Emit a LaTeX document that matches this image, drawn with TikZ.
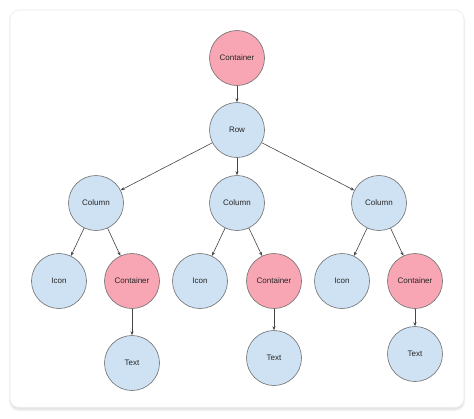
\documentclass[tikz,border=0pt]{standalone}
\usepackage{fontspec}
\setmainfont{Liberation Sans}
\usetikzlibrary{arrows.meta}
\definecolor{nodeblue}{RGB}{207,226,243}
\definecolor{nodepink}{RGB}{248,166,180}
\definecolor{edgegray}{RGB}{70,70,70}
\definecolor{bordergray}{RGB}{110,110,110}
\begin{document}
\begin{tikzpicture}[x=1pt,y=-1pt,
  tnode/.style={circle,draw=bordergray,line width=0.6pt,minimum size=55pt,inner sep=0pt,font=\fontsize{8}{9}\selectfont,text=black!85},
  bnode/.style={tnode,fill=nodeblue},
  pnode/.style={tnode,fill=nodepink},
  link/.style={draw=edgegray,line width=0.6pt,-{Stealth[length=4pt,width=3.2pt]}},
  card/.style={draw=black!8,fill=white,rounded corners=9pt,line width=0.6pt}]
\useasboundingbox (0,0) rectangle (474,418);
\fill[white] (0,0) rectangle (474,418);
\fill[black!5,rounded corners=10pt] (9,11) rectangle (465,411);
\fill[black!10,rounded corners=9pt] (10,12) rectangle (464,409.5);
\path[card] (10,10) rectangle (464,407.5);
\node[pnode] (top) at (237,58) {Container};
\node[bnode] (row) at (237,130) {Row};
\node[bnode] (c1) at (96,203) {Column};
\node[bnode] (c2) at (237,203) {Column};
\node[bnode] (c3) at (379,203) {Column};
\node[bnode] (i1) at (59,281) {Icon};
\node[bnode] (i2) at (200,281) {Icon};
\node[bnode] (i3) at (342,281) {Icon};
\node[pnode] (k1) at (132,281) {Container};
\node[pnode] (k2) at (274,281) {Container};
\node[pnode] (k3) at (415,281) {Container};
\node[bnode] (t1) at (132,363) {Text};
\node[bnode] (t2) at (274,358) {Text};
\node[bnode] (t3) at (415,354) {Text};
\draw[link] (top) -- (row);
\draw[link] (row) -- (c1);
\draw[link] (row) -- (c2);
\draw[link] (row) -- (c3);
\draw[link] (c1) -- (i1);
\draw[link] (c1) -- (k1);
\draw[link] (c2) -- (i2);
\draw[link] (c2) -- (k2);
\draw[link] (c3) -- (i3);
\draw[link] (c3) -- (k3);
\draw[link] (k1) -- (t1);
\draw[link] (k2) -- (t2);
\draw[link] (k3) -- (t3);
\end{tikzpicture}
\end{document}
